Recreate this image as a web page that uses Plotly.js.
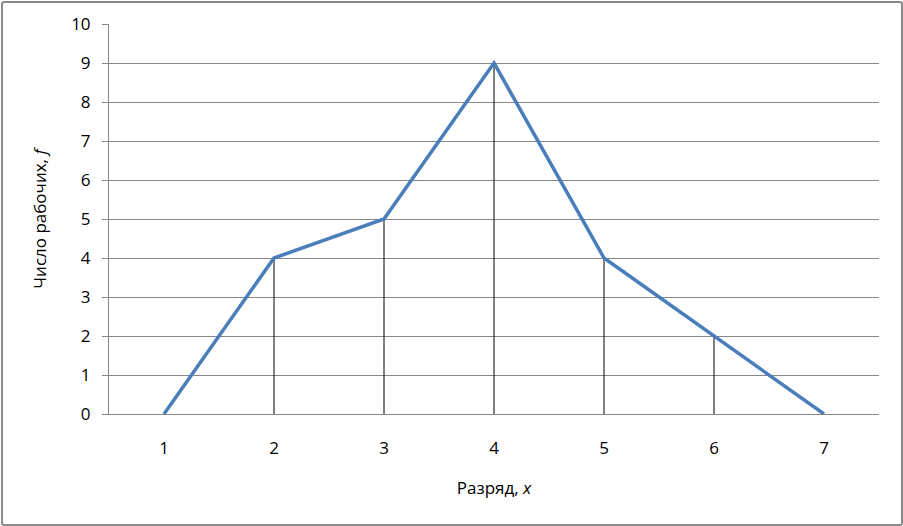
<!DOCTYPE html>
<html>
<head>
<meta charset="utf-8">
<script src="https://cdn.plot.ly/plotly-3.0.1.min.js"></script>
<style>
html,body{margin:0;padding:0;background:#fff;}
#wrap{position:relative;width:903px;height:526px;}
#chart{width:903px;height:526px;}
#frame{position:absolute;left:1px;top:1px;width:898px;height:521px;border:2px solid #8a8a8a;border-radius:3px;pointer-events:none;}
</style>
</head>
<body>
<div id="wrap"><div id="chart"></div><div id="frame"></div></div>
<script>
// Data
const categories = [1, 2, 3, 4, 5, 6, 7];
const workers = [0, 4, 5, 9, 4, 2, 0];
const yTicks = [0, 1, 2, 3, 4, 5, 6, 7, 8, 9, 10];
const xTitle = 'Разряд, <i>x</i>';
const yTitle = 'Число рабочих, <i>f</i>';

// drop lines built from the data
const dropX = [], dropY = [];
categories.forEach((c, i) => {
  if (workers[i] > 0) { dropX.push(c, c, null); dropY.push(workers[i], 0, null); }
});

const traces = [
  {x: dropX, y: dropY, mode: 'lines', line: {color: '#000000', width: 1}, hoverinfo: 'skip', showlegend: false},
  {x: categories, y: workers, mode: 'lines', line: {color: '#4A7EBB', width: 3.5}, showlegend: false}
];

const font = {family: 'Open Sans, Noto Sans, sans-serif', size: 17, color: '#000'};
const layout = {
  width: 903, height: 526,
  margin: {l: 109, r: 24, t: 24, b: 112},
  paper_bgcolor: '#fff', plot_bgcolor: '#fff',
  font: font,
  showlegend: false,
  xaxis: {
    range: [0.5, 7.5], tickvals: categories, ticktext: categories.map(String),
    showgrid: false, zeroline: false, showline: true, linecolor: '#868686', linewidth: 1,
    ticks: '', ticklabelstandoff: 19, tickfont: font,
    title: {text: xTitle, font: font, standoff: 23}
  },
  yaxis: {
    range: [0, 10], tickvals: yTicks, showgrid: true, gridcolor: '#868686', gridwidth: 1,
    zeroline: false, showline: true, linecolor: '#868686', linewidth: 1,
    ticks: 'outside', ticklen: 6, tickcolor: '#868686', ticklabelstandoff: 8, tickfont: font,
    title: {text: yTitle, font: font, standoff: 20}
  }
};
Plotly.newPlot('chart', traces, layout, {displayModeBar: false, staticPlot: true});
</script>
</body>
</html>
